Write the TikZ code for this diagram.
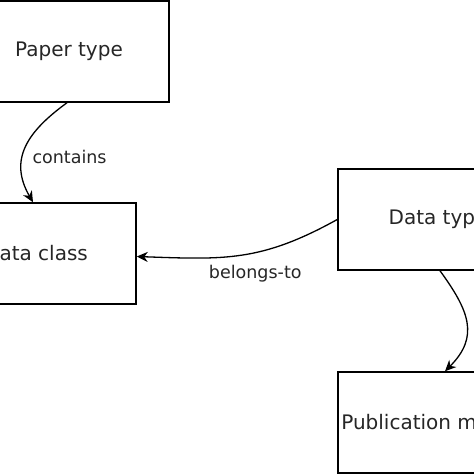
\documentclass[tikz,border=0pt]{standalone}
\usepackage{fontspec}
\setmainfont{DejaVu Sans}
\usetikzlibrary{arrows.meta}

\begin{document}
\begin{tikzpicture}[x = 1pt, y = -1pt,
  box/.style={draw, line width = 1.5pt, inner sep = 2pt, minimum width = 200pt, minimum height = 101pt, text = black!85, font=\fontsize{20}{24}\selectfont},
  lbl/.style={font=\fontsize{17.5}{21}\selectfont, text = black!85, inner sep = 1pt},
  rel/.style={line width = 1.3pt, -{Stealth[length = 11pt, width = 10pt, inset = 3.5pt]}}]
\useasboundingbox (0,0) rectangle (474,474);
\node[box] (ptype) at (69, 51.5) {Paper type};
\node[box] (dclass) at (36, 253.5) {Data class};
\node[box] (dtype) at (438, 219.5) {Data type};
\node[box] (pmethod) at (438, 422.5) {Publication method};
\draw[rel] ([xshift=-2pt]ptype.south) to[out=216, in=120, looseness=1.2] node[lbl, pos=0.6, right=8pt] {contains} ([xshift=-3pt]dclass.north);
\draw[rel] (dtype.west) to[out=209, in=-2, looseness=1.1] node[lbl, pos=0.42, below=11pt] {belongs-to} ([yshift=-3pt]dclass.east);
\draw[rel] ([xshift=2pt]dtype.south) to[out=-54, in=45, looseness=1.25] ([xshift=7pt]pmethod.north);
\end{tikzpicture}
\end{document}
